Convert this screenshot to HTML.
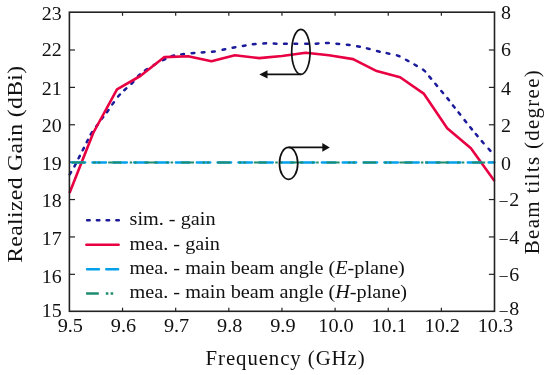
<!DOCTYPE html><html><head><meta charset="utf-8"><style>html,body{margin:0;padding:0;background:#fff;}svg{display:block}text{font-family:"Liberation Serif","Times New Roman",serif;fill:#111}</style></head><body>
<svg width="550" height="375" viewBox="0 0 550 375">
<line x1="69.4" y1="49.99" x2="75.00" y2="49.99" stroke="#222" stroke-width="1.2"/>
<line x1="494.5" y1="49.99" x2="488.90" y2="49.99" stroke="#222" stroke-width="1.2"/>
<line x1="69.4" y1="87.38" x2="75.00" y2="87.38" stroke="#222" stroke-width="1.2"/>
<line x1="494.5" y1="87.38" x2="488.90" y2="87.38" stroke="#222" stroke-width="1.2"/>
<line x1="69.4" y1="124.77" x2="75.00" y2="124.77" stroke="#222" stroke-width="1.2"/>
<line x1="494.5" y1="124.77" x2="488.90" y2="124.77" stroke="#222" stroke-width="1.2"/>
<line x1="69.4" y1="162.16" x2="75.00" y2="162.16" stroke="#222" stroke-width="1.2"/>
<line x1="494.5" y1="162.16" x2="488.90" y2="162.16" stroke="#222" stroke-width="1.2"/>
<line x1="69.4" y1="199.55" x2="75.00" y2="199.55" stroke="#222" stroke-width="1.2"/>
<line x1="494.5" y1="199.55" x2="488.90" y2="199.55" stroke="#222" stroke-width="1.2"/>
<line x1="69.4" y1="236.94" x2="75.00" y2="236.94" stroke="#222" stroke-width="1.2"/>
<line x1="494.5" y1="236.94" x2="488.90" y2="236.94" stroke="#222" stroke-width="1.2"/>
<line x1="69.4" y1="274.33" x2="75.00" y2="274.33" stroke="#222" stroke-width="1.2"/>
<line x1="494.5" y1="274.33" x2="488.90" y2="274.33" stroke="#222" stroke-width="1.2"/>
<line x1="122.54" y1="311.3" x2="122.54" y2="307.70" stroke="#222" stroke-width="1.2"/>
<line x1="122.54" y1="12.2" x2="122.54" y2="15.80" stroke="#222" stroke-width="1.2"/>
<line x1="175.68" y1="311.3" x2="175.68" y2="307.70" stroke="#222" stroke-width="1.2"/>
<line x1="175.68" y1="12.2" x2="175.68" y2="15.80" stroke="#222" stroke-width="1.2"/>
<line x1="228.82" y1="311.3" x2="228.82" y2="307.70" stroke="#222" stroke-width="1.2"/>
<line x1="228.82" y1="12.2" x2="228.82" y2="15.80" stroke="#222" stroke-width="1.2"/>
<line x1="281.96" y1="311.3" x2="281.96" y2="307.70" stroke="#222" stroke-width="1.2"/>
<line x1="281.96" y1="12.2" x2="281.96" y2="15.80" stroke="#222" stroke-width="1.2"/>
<line x1="335.10" y1="311.3" x2="335.10" y2="307.70" stroke="#222" stroke-width="1.2"/>
<line x1="335.10" y1="12.2" x2="335.10" y2="15.80" stroke="#222" stroke-width="1.2"/>
<line x1="388.24" y1="311.3" x2="388.24" y2="307.70" stroke="#222" stroke-width="1.2"/>
<line x1="388.24" y1="12.2" x2="388.24" y2="15.80" stroke="#222" stroke-width="1.2"/>
<line x1="441.38" y1="311.3" x2="441.38" y2="307.70" stroke="#222" stroke-width="1.2"/>
<line x1="441.38" y1="12.2" x2="441.38" y2="15.80" stroke="#222" stroke-width="1.2"/>
<path d="M69.72 174.47L71.08 172.13M74.46 166.39L75.74 164.01M78.59 158.30L79.81 155.90M82.69 150.31L83.91 147.89M86.69 142.20L87.91 139.80M90.68 134.34L92.12 132.06M96.21 126.59L97.79 124.41M101.59 119.08L103.21 116.92M106.91 112.19L108.49 110.01M112.31 104.39L113.89 102.21M118.11 96.52L119.89 94.48M124.32 90.23L126.28 88.37M131.46 83.76L133.34 81.84M138.02 76.23L139.98 74.37M144.99 70.56L147.21 69.04M153.73 65.07L156.07 63.73M162.88 60.18L165.32 59.02M171.50 56.18L174.10 55.42M181.26 54.38L183.94 54.02M191.66 53.22L194.34 52.98M201.75 52.40L204.45 52.20M212.06 51.78L214.74 51.42M222.58 49.77L225.22 49.23M232.67 47.65L235.33 47.15M242.87 45.91L245.53 45.49M252.86 44.35L255.54 44.05M263.35 43.44L266.05 43.36M273.75 43.57L276.45 43.63M284.05 43.79L286.75 43.81M294.45 43.80L297.15 43.80M305.25 43.81L307.95 43.79M315.75 43.66L318.45 43.54M326.05 42.89L328.75 42.91M336.46 43.67L339.14 43.93M346.86 44.73L349.54 45.07M357.17 46.25L359.83 46.75M366.99 48.38L369.61 49.02M377.09 51.09L379.71 51.71M386.68 53.11L389.32 53.69M396.93 55.34L399.47 56.26M406.01 59.76L408.39 61.04M414.44 64.51L416.76 65.89M423.07 69.63L425.13 71.37M429.33 76.57L431.07 78.63M435.34 83.76L437.06 85.84M441.34 90.96L443.06 93.04M447.36 98.15L449.04 100.25M452.97 105.44L454.63 107.56M458.56 112.44L460.24 114.56M464.56 120.14L466.24 122.26M470.25 127.25L471.95 129.35M475.84 134.06L477.56 136.14M481.81 141.18L483.59 143.22M488.60 148.79L490.40 150.81" fill="none" stroke="#1a1a9a" stroke-width="2.5" stroke-linecap="round"/>
<polyline points="69.5,193.0 93.2,133.0 117.0,89.3 140.3,76.0 164.4,57.1 188.1,56.3 211.5,61.2 234.9,55.3 259.2,58.1 282.0,56.0 305.7,52.7 329.0,55.3 353.1,59.1 376.7,71.1 400.1,77.3 423.7,93.6 447.2,128.3 470.9,148.3 494.5,181.0" fill="none" stroke="#e80042" stroke-width="2.6" stroke-linejoin="round"/>
<line x1="69.4" y1="162.5" x2="494.5" y2="162.5" stroke="#00a0eb" stroke-width="2.3" stroke-dasharray="13.7 7.15" stroke-dashoffset="-2.15" stroke-linecap="round"/>
<line x1="69.4" y1="162.5" x2="494.5" y2="162.5" stroke="#1e8c6e" stroke-width="2.2" stroke-dasharray="13 8.5 2.5 2 2.5 7.9" stroke-dashoffset="34.00"/>
<rect x="69.4" y="12.2" width="425.10" height="299.10" fill="none" stroke="#222" stroke-width="1.6"/>
<ellipse cx="300.9" cy="51.85" rx="9.2" ry="22.55" fill="none" stroke="#111" stroke-width="1.7"/>
<line x1="301" y1="74.4" x2="266" y2="74.4" stroke="#111" stroke-width="1.7"/>
<polygon points="259.3,74.4 267.5,70.2 267.5,78.6" fill="#111"/>
<ellipse cx="288.6" cy="163.4" rx="9.15" ry="15.95" fill="none" stroke="#111" stroke-width="1.7"/>
<line x1="288.6" y1="147.45" x2="323" y2="147.45" stroke="#111" stroke-width="1.7"/>
<polygon points="329.8,147.45 322.3,143.05 322.3,151.85" fill="#111"/>
<text transform="translate(61.7,19.9) scale(1.05,1)" font-size="19" text-anchor="end">23</text>
<text transform="translate(61.7,56.2) scale(1.05,1)" font-size="19" text-anchor="end">22</text>
<text transform="translate(61.7,94.8) scale(1.05,1)" font-size="19" text-anchor="end">21</text>
<text transform="translate(61.7,132.4) scale(1.05,1)" font-size="19" text-anchor="end">20</text>
<text transform="translate(61.7,169.9) scale(1.05,1)" font-size="19" text-anchor="end">19</text>
<text transform="translate(61.7,207.4) scale(1.05,1)" font-size="19" text-anchor="end">18</text>
<text transform="translate(61.7,244.9) scale(1.05,1)" font-size="19" text-anchor="end">17</text>
<text transform="translate(61.7,283.2) scale(1.05,1)" font-size="19" text-anchor="end">16</text>
<text transform="translate(61.7,317.2) scale(1.05,1)" font-size="19" text-anchor="end">15</text>
<text transform="translate(500.9,18.9) scale(1.05,1)" font-size="19">8</text>
<text transform="translate(500.9,56.4) scale(1.05,1)" font-size="19">6</text>
<text transform="translate(500.9,94.5) scale(1.05,1)" font-size="19">4</text>
<text transform="translate(500.9,131.8) scale(1.05,1)" font-size="19">2</text>
<text transform="translate(500.9,170.2) scale(1.05,1)" font-size="19">0</text>
<text transform="translate(498.4,206.0) scale(1.05,1)" font-size="19"><tspan font-size="17" dy="1.2">&#8722;</tspan><tspan dx="0.8" dy="-1.2">2</tspan></text>
<text transform="translate(498.4,243.8) scale(1.05,1)" font-size="19"><tspan font-size="17" dy="1.2">&#8722;</tspan><tspan dx="0.8" dy="-1.2">4</tspan></text>
<text transform="translate(498.4,280.9) scale(1.05,1)" font-size="19"><tspan font-size="17" dy="1.2">&#8722;</tspan><tspan dx="0.8" dy="-1.2">6</tspan></text>
<text transform="translate(498.4,315.3) scale(1.05,1)" font-size="19"><tspan font-size="17" dy="1.2">&#8722;</tspan><tspan dx="0.8" dy="-1.2">8</tspan></text>
<text transform="translate(70.30,331.9) scale(1.05,1)" font-size="19.3" text-anchor="middle">9.5</text>
<text transform="translate(123.44,331.9) scale(1.05,1)" font-size="19.3" text-anchor="middle">9.6</text>
<text transform="translate(176.58,331.9) scale(1.05,1)" font-size="19.3" text-anchor="middle">9.7</text>
<text transform="translate(229.72,331.9) scale(1.05,1)" font-size="19.3" text-anchor="middle">9.8</text>
<text transform="translate(282.86,331.9) scale(1.05,1)" font-size="19.3" text-anchor="middle">9.9</text>
<text transform="translate(336.00,331.9) scale(1.05,1)" font-size="19.3" text-anchor="middle">10.0</text>
<text transform="translate(389.14,331.9) scale(1.05,1)" font-size="19.3" text-anchor="middle">10.1</text>
<text transform="translate(442.28,331.9) scale(1.05,1)" font-size="19.3" text-anchor="middle">10.2</text>
<text transform="translate(495.42,331.9) scale(1.05,1)" font-size="19.3" text-anchor="middle">10.3</text>
<text x="205.6" y="364.7" font-size="20.8" textLength="159" lengthAdjust="spacing">Frequency (GHz)</text>
<text transform="translate(22.2,262.8) rotate(-90) scale(1.08,1)" x="0" y="0" font-size="22" textLength="182.4" lengthAdjust="spacing">Realized Gain (dBi)</text>
<text transform="translate(539.3,254.2) rotate(-90)" x="0" y="0" font-size="21" textLength="184" lengthAdjust="spacing">Beam tilts (degree)</text>
<line x1="87.2" y1="220.3" x2="120" y2="220.3" stroke="#1a1a9a" stroke-width="2.6" stroke-dasharray="2.4 7.33" stroke-linecap="round"/>
<line x1="86.4" y1="244.8" x2="118.6" y2="244.8" stroke="#e80042" stroke-width="2.6" stroke-linecap="round"/>
<line x1="87.1" y1="269.2" x2="119.0" y2="269.2" stroke="#00a0eb" stroke-width="2.6" stroke-dasharray="11.8 7.4" stroke-linecap="round"/>
<line x1="86.1" y1="293.5" x2="114" y2="293.5" stroke="#1e8c6e" stroke-width="2.5" stroke-dasharray="12.7 7 2.6 2.2 2.6 20"/>
<text transform="translate(129.5,225.3) scale(1.055,1)" font-size="19.2">sim. - gain</text>
<text transform="translate(129.5,249.9) scale(1.055,1)" font-size="19.2">mea. - gain</text>
<text transform="translate(129.5,274.2) scale(1.055,1)" font-size="19.2">mea. - main beam angle (<tspan font-style="italic">E</tspan>-plane)</text>
<text transform="translate(129.5,298.4) scale(1.055,1)" font-size="19.2">mea. - main beam angle (<tspan font-style="italic">H</tspan>-plane)</text>
</svg></body></html>
